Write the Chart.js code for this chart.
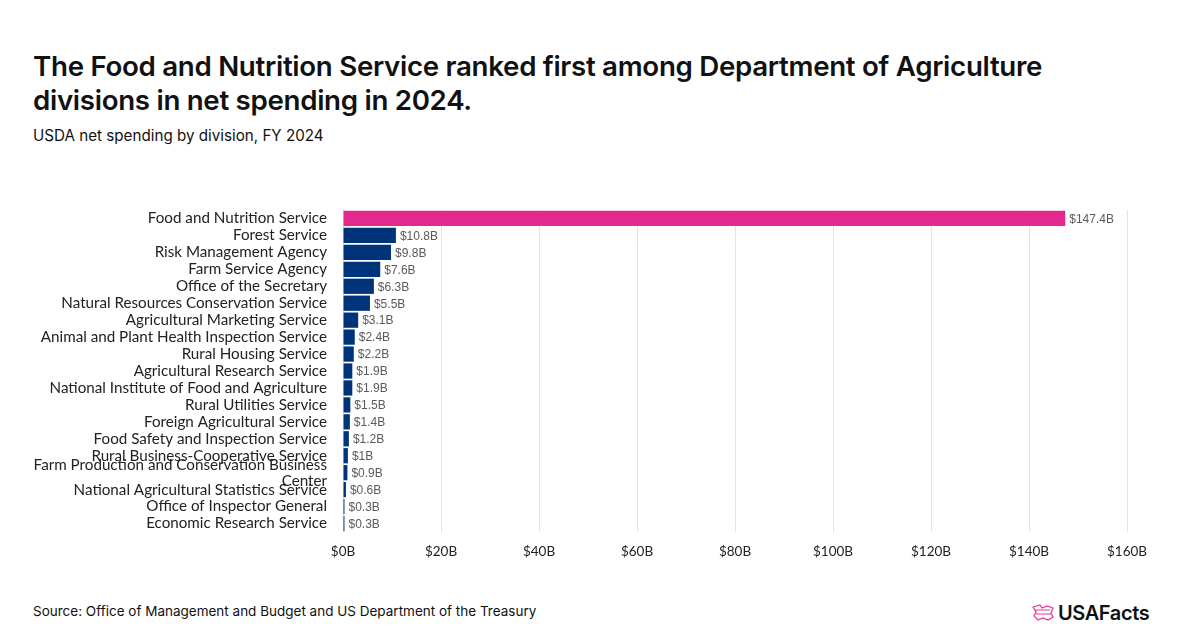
<!DOCTYPE html>
<html>
<head>
<meta charset="utf-8">
<script src="https://cdn.jsdelivr.net/npm/chart.js@4"></script>
<style>
  body { margin: 0; width: 1200px; height: 628px; background: #fff; position: relative; overflow: hidden; font-family: Inter, sans-serif; }
  #title { position: absolute; left: 33px; top: 49px; width: 1090px; font-size: 27.7px; font-weight: 600; line-height: 34px; color: #111; letter-spacing: -0.3px; }
  #subtitle { position: absolute; left: 33px; top: 126px; font-size: 15.2px; color: #111; }
  #source { position: absolute; left: 33px; top: 603px; font-size: 13.5px; color: #111; }
  #logo { position: absolute; left: 1032px; top: 601px; display: flex; align-items: center; }
  #logo span { font-size: 20px; font-weight: 600; color: #111; margin-left: 4px; letter-spacing: -0.4px; }
  #wrap { position: absolute; left: 0; top: 200px; width: 1200px; height: 372px; }
</style>
</head>
<body>
<div id="title">The Food and Nutrition Service ranked first among Department of Agriculture divisions in net spending in 2024.</div>
<div id="subtitle">USDA net spending by division, FY 2024</div>
<div id="wrap"><canvas id="chart"></canvas></div>
<div id="source">Source: Office of Management and Budget and US Department of the Treasury</div>
<div id="logo">
  <svg width="22" height="18" viewBox="0 0 22 18">
    <path d="M1 3 L8 1 L10 4 L15 2 L21 4 L19 9 L21 13 L16 16 L11 14 L6 16 L2 12 L4 8 Z" fill="none" stroke="#e6339a" stroke-width="1.2"/>
    <path d="M3 6 L18 6 M4 10 L19 10" fill="none" stroke="#e6339a" stroke-width="1"/>
  </svg>
  <span>USAFacts</span>
</div>
<script>
const divisions = [
  "Food and Nutrition Service",
  "Forest Service",
  "Risk Management Agency",
  "Farm Service Agency",
  "Office of the Secretary",
  "Natural Resources Conservation Service",
  "Agricultural Marketing Service",
  "Animal and Plant Health Inspection Service",
  "Rural Housing Service",
  "Agricultural Research Service",
  "National Institute of Food and Agriculture",
  "Rural Utilities Service",
  "Foreign Agricultural Service",
  "Food Safety and Inspection Service",
  "Rural Business-Cooperative Service",
  ["Farm Production and Conservation Business", "Center"],
  "National Agricultural Statistics Service",
  "Office of Inspector General",
  "Economic Research Service"
];
const spending = [147.4, 10.8, 9.8, 7.6, 6.3, 5.5, 3.1, 2.4, 2.2, 1.9, 1.9, 1.5, 1.4, 1.2, 1.0, 0.9, 0.6, 0.3, 0.3];
const xTicks = [0, 20, 40, 60, 80, 100, 120, 140, 160];

const pink = "#e3298d";
const navy = "#00347a";

function money(v) {
  return "$" + (Math.round(v * 10) / 10).toString() + "B";
}

const valueLabels = {
  id: "valueLabels",
  afterDatasetsDraw(chart) {
    const ctx = chart.ctx;
    const meta = chart.getDatasetMeta(0);
    ctx.save();
    ctx.font = "12px 'Liberation Sans Narrow', sans-serif";
    ctx.fillStyle = "#5a5a5a";
    ctx.textAlign = "left";
    ctx.textBaseline = "middle";
    meta.data.forEach((bar, i) => {
      ctx.fillText(money(spending[i]), bar.x + 4, bar.y + 1);
    });
    ctx.restore();
  }
};

new Chart(document.getElementById("chart"), {
  type: "bar",
  data: {
    labels: divisions,
    datasets: [{
      data: spending,
      backgroundColor: spending.map((v, i) => i === 0 ? pink : navy),
      borderWidth: 0,
      barPercentage: 0.9,
      categoryPercentage: 1.0
    }]
  },
  options: {
    indexAxis: "y",
    responsive: true,
    maintainAspectRatio: false,
    animation: false,
    layout: { padding: { top: 10, right: 73, left: 0, bottom: 0 } },
    plugins: { legend: { display: false }, tooltip: { enabled: false } },
    scales: {
      x: {
        min: 0,
        max: 160,
        afterBuildTicks(axis) { axis.ticks = xTicks.map(v => ({ value: v })); },
        afterFit(axis) { axis.height = 40; axis.paddingLeft = 0; axis.paddingRight = 0; },
        grid: { color: "#e5e5e5", drawTicks: false },
        border: { display: false },
        ticks: {
          padding: 12,
          color: "#222",
          font: { family: "Lato", size: 13.5 },
          callback: v => "$" + v + "B"
        }
      },
      y: {
        afterFit(axis) { axis.width = 343; axis.paddingTop = 0; axis.paddingBottom = 0; },
        grid: { display: false, drawTicks: false },
        border: { display: false },
        ticks: {
          padding: 16,
          autoSkip: false,
          color: "#222",
          font: { family: "Lato", size: 15.2, lineHeight: 1.05 }
        }
      }
    }
  },
  plugins: [valueLabels]
});
</script>
</body>
</html>
